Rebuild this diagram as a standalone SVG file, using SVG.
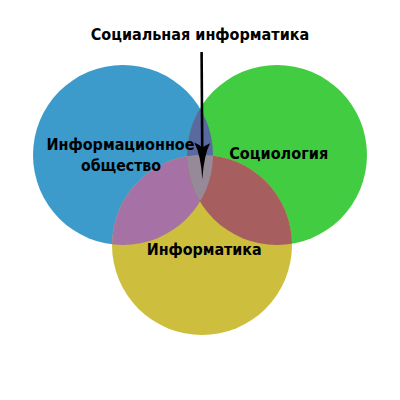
<svg xmlns="http://www.w3.org/2000/svg" width="400" height="400" viewBox="0 0 400 400">
<style>
.lbl{font-family:"DejaVu Sans Condensed","DejaVu Sans",sans-serif;font-stretch:condensed;font-weight:bold;font-size:16px;fill:#000;text-anchor:middle}
</style>
<defs>
<clipPath id="cB"><circle cx="123" cy="155" r="90"/></clipPath>
<clipPath id="cG"><circle cx="277" cy="155" r="90"/></clipPath>
<clipPath id="cY"><circle cx="202" cy="245" r="90"/></clipPath>
</defs>
<rect width="400" height="400" fill="#fff"/>
<g id="sets">
<circle id="informational-society" cx="123" cy="155" r="90" fill="#3d9bcc"/>
<circle id="sociology" cx="277" cy="155" r="90" fill="#42cc42"/>
<circle id="informatics" cx="202" cy="245" r="90" fill="#cdbf3d"/>
<g clip-path="url(#cB)"><circle cx="277" cy="155" r="90" fill="#5a6aa0"/></g>
<g clip-path="url(#cB)"><circle cx="202" cy="245" r="90" fill="#a672a6"/></g>
<g clip-path="url(#cG)"><circle cx="202" cy="245" r="90" fill="#a65e5e"/></g>
<g clip-path="url(#cB)"><g clip-path="url(#cG)"><circle cx="202" cy="245" r="90" fill="#968a98"/></g></g>
</g>
<g id="labels">
<text class="lbl" x="120.5" y="150" textLength="148" lengthAdjust="spacingAndGlyphs">Информационное</text>
<text class="lbl" x="121" y="171" textLength="80" lengthAdjust="spacingAndGlyphs">общество</text>
<text class="lbl" x="278.7" y="158.5" textLength="99" lengthAdjust="spacingAndGlyphs">Социология</text>
<text class="lbl" x="204.2" y="255" textLength="115" lengthAdjust="spacingAndGlyphs">Информатика</text>
<text class="lbl" x="200" y="39.5" textLength="218.5" lengthAdjust="spacingAndGlyphs">Социальная информатика</text>
</g>
<g id="connectors">
<line x1="201.6" y1="52" x2="202.3" y2="160" stroke="#000" stroke-width="2.6"/>
<path d="M202.3,147.5 Q198,144 194.3,142.5 Q201,155 202.3,179.5 Q204,155 210,143.3 Q206,145 202.3,147.5 Z" fill="#000"/>
</g>
</svg>
